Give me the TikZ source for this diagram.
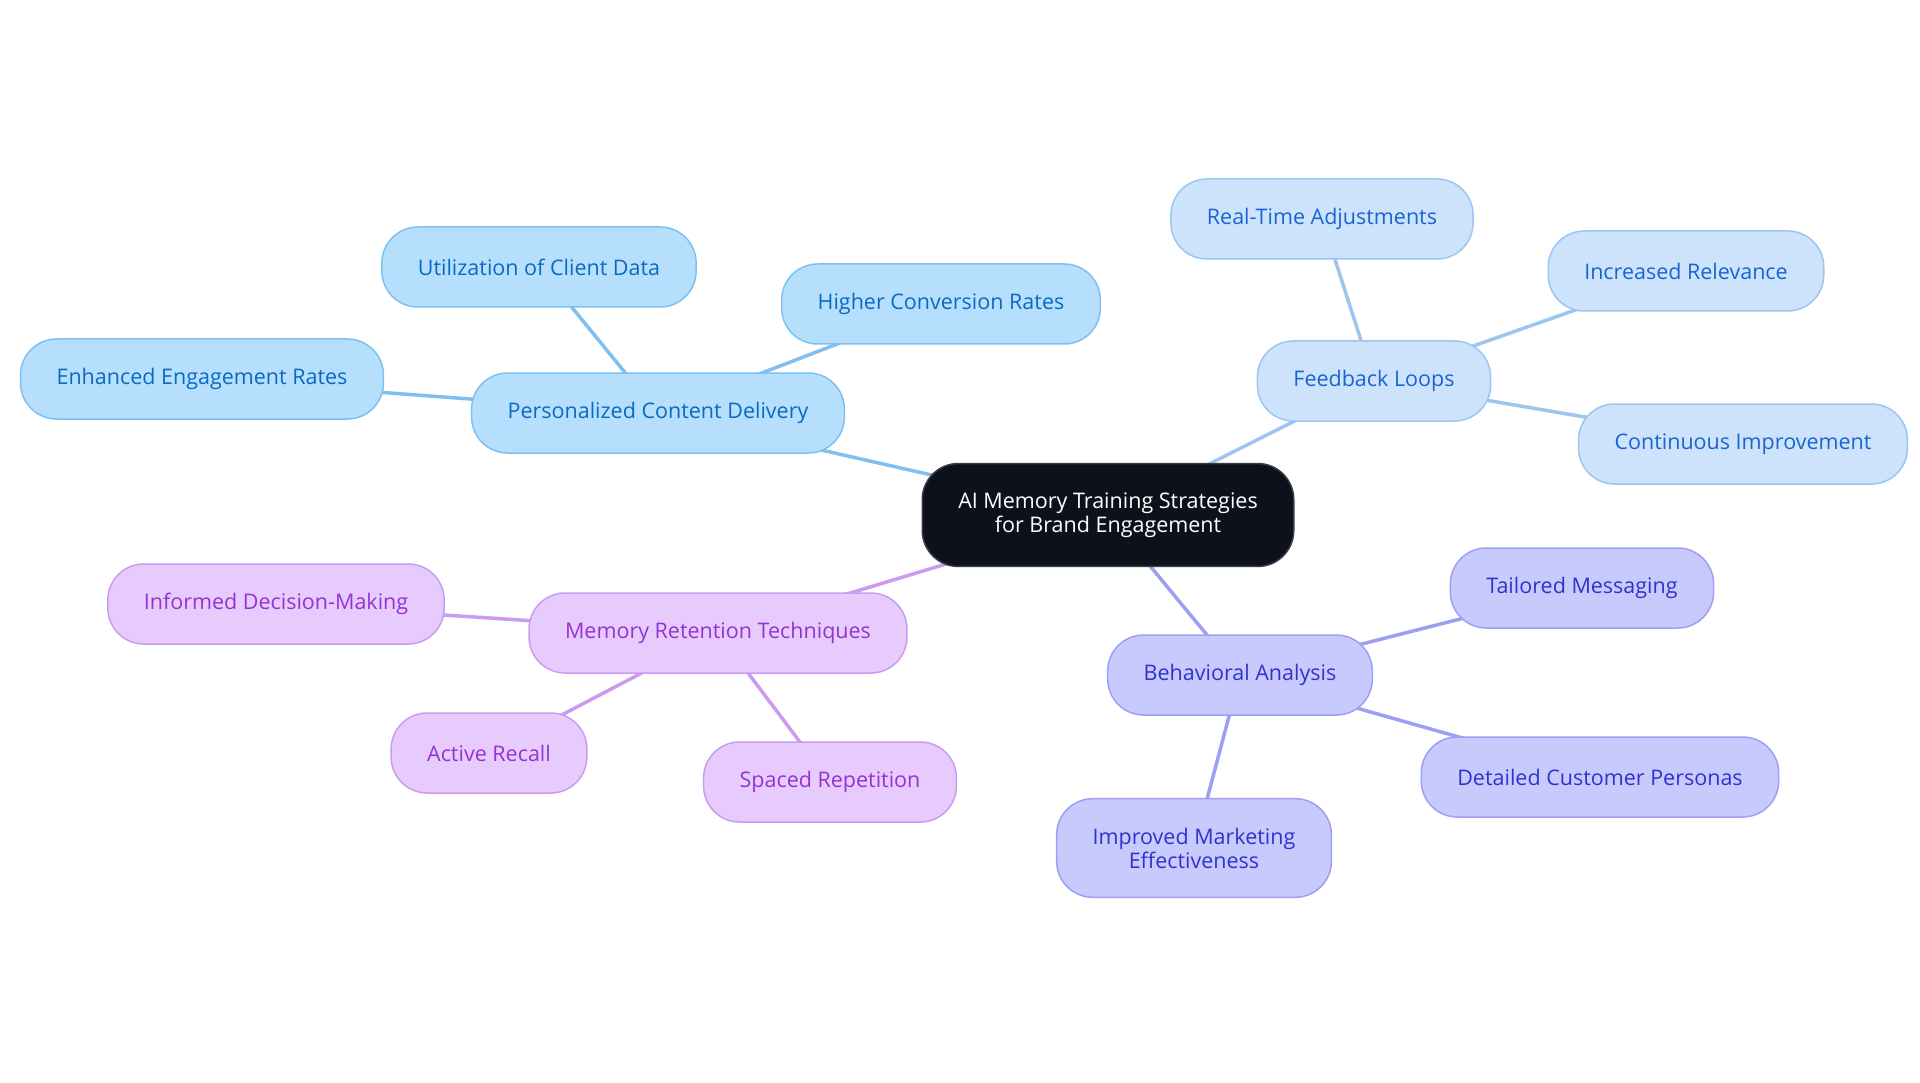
\documentclass[tikz,border=0pt]{standalone}
\usepackage{fontspec}
\setmainfont{Open Sans}
\usepackage{tikz}
\usetikzlibrary{backgrounds}
\definecolor{rootFill}{HTML}{0C111B}
\definecolor{rootLine}{HTML}{3A3D44}
\definecolor{skyFill}{HTML}{B5DFFD}
\definecolor{skyLine}{HTML}{7EC0EF}
\definecolor{skyText}{HTML}{0B6AC0}
\definecolor{paleFill}{HTML}{CDE3FB}
\definecolor{paleLine}{HTML}{9CC5F0}
\definecolor{paleText}{HTML}{1A64D2}
\definecolor{lilacFill}{HTML}{E8CBFD}
\definecolor{lilacLine}{HTML}{CA9BF0}
\definecolor{lilacText}{HTML}{9333D3}
\definecolor{indigoFill}{HTML}{C8CAFD}
\definecolor{indigoLine}{HTML}{9C9FF2}
\definecolor{indigoText}{HTML}{2F33CC}
\tikzset{
  pill/.style={ draw, rounded corners=36pt, line width=1.5pt, minimum height=80pt,
    inner xsep=36pt, inner ysep=29pt, align=center, font=\fontsize{21.5}{24}\selectfont }
}
\tikzset{
  pillRoot/.style={ pill, fill=rootFill, draw=rootLine, text=white }
}
\tikzset{
  pillSky/.style={ pill, fill=skyFill, draw=skyLine, text=skyText }
}
\tikzset{
  pillPale/.style={ pill, fill=paleFill, draw=paleLine, text=paleText }
}
\tikzset{
  pillLilac/.style={ pill, fill=lilacFill, draw=lilacLine, text=lilacText }
}
\tikzset{
  pillIndigo/.style={ pill, fill=indigoFill, draw=indigoLine, text=indigoText }
}
\tikzset{
  link/.style={ line width=3.5pt, every edge/.style={ draw, line width=3.5pt } }
}

\begin{document}
\begin{tikzpicture}[x=1pt, y=-1pt]
      \useasboundingbox (0, 0) rectangle (1920, 1083);
      \node[pillRoot] (root) at (1108, 515) {AI Memory Training Strategies\\for Brand Engagement};
      % personalized content branch
      \node[pillSky] (pcd) at (658, 413) {Personalized Content Delivery};
      \node[pillSky] (ucd) at (539, 267) {Utilization of Client Data};
      \node[pillSky] (hcr) at (941, 304) {Higher Conversion Rates};
      \node[pillSky] (eer) at (202, 379) {Enhanced Engagement Rates};
      % feedback branch
      \node[pillPale] (fbl) at (1374, 381) {Feedback Loops};
      \node[pillPale] (rta) at (1322, 219) {Real-Time Adjustments};
      \node[pillPale] (irl) at (1686, 271) {Increased Relevance};
      \node[pillPale] (cim) at (1743, 444) {Continuous Improvement};
      % memory branch
      \node[pillLilac] (mrt) at (718, 633) {Memory Retention Techniques};
      \node[pillLilac] (idm) at (276, 604) {Informed Decision-Making};
      \node[pillLilac] (arc) at (489, 753) {Active Recall};
      \node[pillLilac] (spr) at (830, 782) {Spaced Repetition};
      % behavioral branch
      \node[pillIndigo] (bha) at (1240, 675) {Behavioral Analysis};
      \node[pillIndigo] (tms) at (1582, 588) {Tailored Messaging};
      \node[pillIndigo] (dcp) at (1600, 777) {Detailed Customer Personas};
      \node[pillIndigo] (ime) at (1194, 848) {Improved Marketing\\Effectiveness};
      % links run centre to centre, the fills hide the inner part
      \begin{scope}[on background layer]
        \draw[link, skyLine] (root.center) edge (pcd.center) (pcd.center) edge (ucd.center)
          (pcd.center) edge (hcr.center) (pcd.center) edge (eer.center);
        \draw[link, paleLine] (root.center) edge (fbl.center) (fbl.center) edge (rta.center)
          (fbl.center) edge (irl.center) (fbl.center) edge (cim.center);
        \draw[link, lilacLine] (root.center) edge (mrt.center) (mrt.center) edge (idm.center)
          (mrt.center) edge (arc.center) (mrt.center) edge (spr.center);
        \draw[link, indigoLine] (root.center) edge (bha.center) (bha.center) edge (tms.center)
          (bha.center) edge (dcp.center) (bha.center) edge (ime.center);
      \end{scope}
    \end{tikzpicture}
\end{document}
